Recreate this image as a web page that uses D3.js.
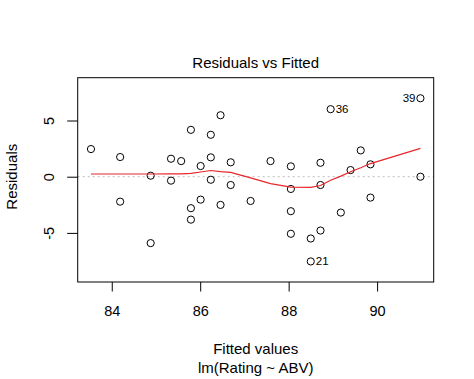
<!DOCTYPE html>
<html><head><meta charset="utf-8">
<script src="https://cdn.jsdelivr.net/npm/d3@7"></script>
<style>body{margin:0;background:#fff}svg{display:block}text{font-family:"Liberation Sans",Arial,sans-serif;fill:#000}</style>
</head><body>
<script>
const fitted = [83.53,84.19,84.19,84.88,84.88,85.34,85.34,85.57,85.79,85.79,85.79,86.01,86.01,86.24,86.24,86.24,86.46,86.46,86.69,86.69,87.14,87.59,88.05,88.05,88.05,88.05,88.50,88.50,88.72,88.72,88.72,88.95,89.18,89.40,89.63,89.85,89.85,90.98,90.98];
const residuals = [2.46,1.75,-2.22,0.09,-5.91,1.60,-0.35,1.39,4.17,-2.80,-3.82,0.95,-2.04,3.73,1.72,-0.27,5.47,-2.51,1.28,-0.74,-2.16,1.39,0.92,-1.09,-3.07,-5.08,-5.50,-7.54,1.24,-0.74,-4.79,6.01,-3.19,0.59,2.34,1.10,-1.86,6.98,0.00];
const smoothX = [83.53,84.19,84.88,85.34,85.57,85.79,86.01,86.24,86.46,86.69,87.14,87.59,88.05,88.50,88.72,88.95,89.18,89.40,89.63,89.85,90.98];
const smoothY = [0.24,0.24,0.24,0.25,0.26,0.30,0.42,0.55,0.45,0.38,-0.10,-0.62,-0.92,-0.95,-0.78,-0.32,0.05,0.44,0.80,1.17,2.52];
const pointLabels = [{i:37,text:"39",side:"left"},{i:31,text:"36",side:"right"},{i:27,text:"21",side:"right"}];
const xTicks = [84,86,88,90];
const yTicks = [-5,0,5];
const title = "Residuals vs Fitted";
const xLabel1 = "Fitted values";
const xLabel2 = "lm(Rating ~ ABV)";
const yLabel = "Residuals";

const W=474,H=379;
const L=77.7,R=433.7,T=77.7,B=282;
const svg=d3.select("body").append("svg").attr("width",W).attr("height",H);
const x=d3.scaleLinear().domain([83.23,91.28]).range([L,R]);
const y=d3.scaleLinear().domain([-9.37,8.81]).range([B,T]);

// zero line
svg.append("line").attr("x1",L).attr("x2",R).attr("y1",y(0)).attr("y2",y(0))
  .attr("stroke","#bdbdbd").attr("stroke-width",1).attr("stroke-dasharray","2,3");

// points
svg.append("g").selectAll("circle").data(fitted.map((f,i)=>[f,residuals[i]])).join("circle")
  .attr("cx",d=>x(d[0])).attr("cy",d=>y(d[1])).attr("r",3.6)
  .attr("fill","none").attr("stroke","#000").attr("stroke-width",1);

// smooth
svg.append("path").datum(smoothX.map((v,i)=>[v,smoothY[i]]))
  .attr("d",d3.line().x(d=>x(d[0])).y(d=>y(d[1])))
  .attr("fill","none").attr("stroke","#e8262b").attr("stroke-width",1.2);

// point labels
svg.append("g").selectAll("text").data(pointLabels).join("text")
  .attr("x",d=>x(fitted[d.i])+(d.side==="left"?-5:5))
  .attr("y",d=>y(residuals[d.i]))
  .attr("dy","0.35em")
  .attr("text-anchor",d=>d.side==="left"?"end":"start")
  .attr("font-size",11.5).text(d=>d.text);

// box
svg.append("rect").attr("x",L).attr("y",T).attr("width",R-L).attr("height",B-T)
  .attr("fill","none").attr("stroke","#000").attr("stroke-width",1);

// axes
const xa=svg.append("g").attr("transform",`translate(0,${B})`)
  .call(d3.axisBottom(x).tickValues(xTicks).tickSize(9.5).tickPadding(14).tickFormat(d3.format("d")));
xa.select(".domain").remove();
xa.selectAll("text").attr("font-size",14.5).attr("font-family","Liberation Sans, Arial, sans-serif");
const ya=svg.append("g").attr("transform",`translate(${L},0)`)
  .call(d3.axisLeft(y).tickValues(yTicks).tickSize(10.5).tickFormat(d=>d<0?"-"+Math.abs(d):String(d)));
ya.select(".domain").remove();
ya.selectAll(".tick text").attr("font-size",14.5).attr("font-family","Liberation Sans, Arial, sans-serif")
  .attr("x",0).attr("dy",0).attr("text-anchor","middle")
  .attr("transform","translate(-28.4,0) rotate(-90)").attr("dy","0.35em");

// titles
svg.append("text").attr("x",(L+R)/2).attr("y",63).attr("dy","0.35em").attr("text-anchor","middle").attr("font-size",15).text(title);
svg.append("text").attr("x",(L+R)/2).attr("y",349).attr("dy","0.35em").attr("text-anchor","middle").attr("font-size",15).text(xLabel1);
svg.append("text").attr("x",(L+R)/2).attr("y",367.5).attr("dy","0.35em").attr("text-anchor","middle").attr("font-size",15).text(xLabel2);
svg.append("text").attr("transform",`translate(11.7,${y(0)}) rotate(-90)`).attr("dy","0.35em").attr("text-anchor","middle").attr("font-size",15).text(yLabel);
</script>
</body></html>
